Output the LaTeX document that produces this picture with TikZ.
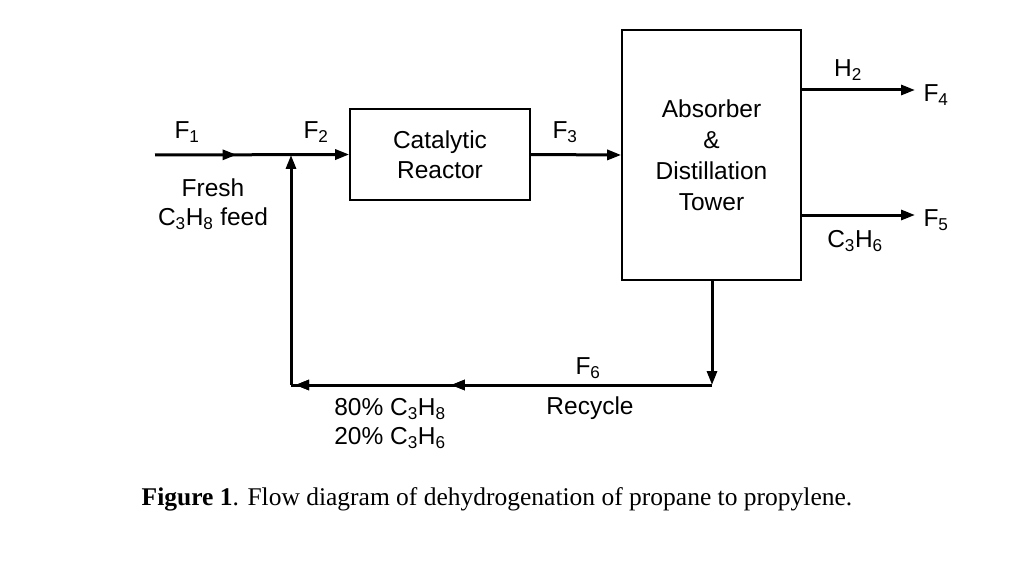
\documentclass[tikz,border=0pt]{standalone}
\usepackage{fontspec}
\setmainfont{Liberation Serif}
\newfontfamily\lab{Liberation Sans}
\usetikzlibrary{arrows.meta,decorations.markings}
\newcommand{\sbs}[1]{\textsubscript{#1}}
\begin{document}
\begin{tikzpicture}[x=1pt,y=-1pt,
  flow/.style={line width=3pt,-{Triangle[length=14pt,width=10pt]}},
  mid/.style={postaction={decorate},decoration={markings,mark=at position #1 with {\arrow{Triangle[length=14pt,width=10pt]}}}},
  unit/.style={draw,line width=1.6pt,inner sep=0pt},
  txt/.style={font=\lab\fontsize{24.5}{28}\selectfont,inner sep=0pt,align=center}]
\useasboundingbox (0,0) rectangle (1024,580);
\node[unit,minimum width=180pt,minimum height=91pt] (R) at (440,154.5) {};
\node[txt] at (440,154.5) {Catalytic\\[2pt]Reactor};
\node[unit,minimum width=179pt,minimum height=250pt] (T) at (711.5,155) {};
\node[txt,align=center] at (711.5,155) {Absorber\\[3pt]\&\\[3pt]Distillation\\[3pt]Tower};
\coordinate (in) at (155,155);
\coordinate (j) at (291,155);
\coordinate (h2) at (915,90);
\coordinate (c6) at (915,215);
\coordinate (b) at (712,385);
\coordinate (c) at (291,385);
\draw[flow,mid=0.42] (in) -- (R.west);
\draw[flow] (R.east) -- (T.west |- 0,155);
\draw[flow] (T.east |- 0,90) -- (h2);
\draw[flow] (T.east |- 0,215) -- (c6);
\draw[flow] (T.south -| b) -- (b);
\draw[line width=3pt,mid=0.62,mid=0.99] (b) -- (c);
\draw[flow] (c) -- (j);
\node[txt] at (187,132) {F\sbs{1}};
\node[txt] at (316,132) {F\sbs{2}};
\node[txt] at (565,132) {F\sbs{3}};
\node[txt] at (213,188) {Fresh};
\node[txt] at (213,219) {C\sbs{3}H\sbs{8} feed};
\node[txt] at (848,70) {H\sbs{2}};
\node[txt] at (936,95) {F\sbs{4}};
\node[txt] at (855,241) {C\sbs{3}H\sbs{6}};
\node[txt] at (936,220) {F\sbs{5}};
\node[txt] at (588,368) {F\sbs{6}};
\node[txt] at (590,408) {Recycle};
\node[txt] at (390,409) {80\% C\sbs{3}H\sbs{8}};
\node[txt] at (390,438) {20\% C\sbs{3}H\sbs{6}};
\node[inner sep=0pt,font=\fontsize{25.5}{30}\selectfont] at (497,499) {\textbf{Figure 1}. Flow diagram of dehydrogenation of propane to propylene.};
\end{tikzpicture}
\end{document}
